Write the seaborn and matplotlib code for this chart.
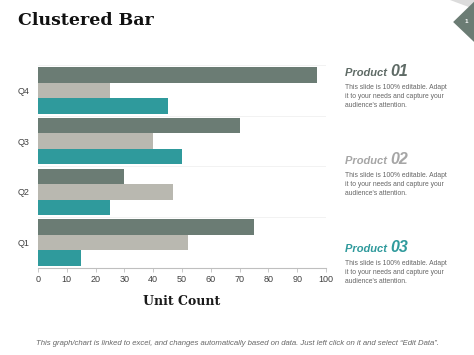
import pandas as pd
import seaborn as sns
import matplotlib.pyplot as plt
import numpy as np
from matplotlib.patches import Polygon

# chart data
quarters = ["Q4", "Q3", "Q2", "Q1"]
products = ["Product 01", "Product 02", "Product 03"]
product_01 = [97, 70, 30, 75]
product_02 = [25, 40, 47, 52]
product_03 = [45, 50, 25, 15]
x_ticks = list(range(0, 101, 10))

colors = ["#6b7c74", "#b9b8b0", "#2f9a9c"]
title_colors = ["#5f6b66", "#a6a6a6", "#2f9a9c"]
desc = "This slide is 100% editable. Adapt\nit to your needs and capture your\naudience's attention."
footer = ("This graph/chart is linked to excel, and changes automatically based on data. "
          "Just left click on it and select \u201cEdit Data\u201d.")

df = pd.DataFrame({
    "quarter": quarters * 3,
    "product": [p for p in products for _ in quarters],
    "value": product_01 + product_02 + product_03,
})

sns.set_theme(style="white")
plt.rcParams["font.family"] = ["Liberation Sans", "DejaVu Sans"]

fig = plt.figure(figsize=(4.74, 3.55), dpi=100)
ax = fig.add_axes([0.080, 0.245, 0.608, 0.572])

sns.barplot(data=df, y="quarter", x="value", hue="product", order=quarters,
            hue_order=products, palette=colors, orient="h", width=0.92, gap=0,
            saturation=1, linewidth=0, edgecolor="none", ax=ax, legend=False)

ax.set_xlim(0, 100)
ax.set_xticks(x_ticks)
ax.set_yticks(np.arange(len(quarters) + 1) - 0.5, minor=True)
ax.grid(which="minor", axis="y", color="#f0f0f0", linewidth=0.6)
ax.tick_params(axis="y", which="both", length=0, labelsize=6.5, labelcolor="#404040", pad=6)
ax.tick_params(axis="x", length=3, width=0.6, color="#bfbfbf", labelsize=6.5,
               labelcolor="#404040", pad=2, bottom=True)
for side in ["top", "right", "left"]:
    ax.spines[side].set_visible(False)
ax.spines["bottom"].set_color("#bfbfbf")
ax.spines["bottom"].set_linewidth(0.8)
ax.set_ylabel("")
ax.set_xlabel("Unit Count", fontsize=9, fontweight="bold", family="DejaVu Serif",
              color="#1a1a1a", labelpad=8)

fig.text(0.038, 0.943, "Clustered Bar", fontsize=12.5, fontweight="bold",
         family="DejaVu Serif", color="#111111", va="center")

# product notes on the right
title_y = [0.786, 0.538, 0.290]
for name, col, ty in zip(products, title_colors, title_y):
    word, num = name.split()
    t = fig.text(0.728, ty, word + " ", fontsize=8, fontweight="bold", style="italic",
                 color=col, va="baseline")
    fig.canvas.draw()
    bb = t.get_window_extent().transformed(fig.transFigure.inverted())
    fig.text(bb.x1, ty, num, fontsize=11.5, fontweight="bold", style="italic",
             color=col, va="baseline")
    fig.text(0.728, ty - 0.022, desc, fontsize=4.9, color="#666666", va="top",
             linespacing=1.4)

fig.text(0.5, 0.032, footer, fontsize=5.6, style="italic", color="#666666",
         ha="center", va="center")

# page corner decoration
fig.patches.append(Polygon([[0.95, 1.0], [1.0, 1.0], [1.0, 0.975]], closed=True,
                           transform=fig.transFigure, facecolor="#dcdcdc", edgecolor="none"))
fig.patches.append(Polygon([[0.956, 0.938], [1.0, 0.995], [1.0, 0.882]], closed=True,
                           transform=fig.transFigure, facecolor="#6b7c74", edgecolor="none"))
fig.text(0.983, 0.940, "1", fontsize=4.5, color="white", fontweight="bold",
         ha="center", va="center")

fig.savefig("out.png", dpi=100)
